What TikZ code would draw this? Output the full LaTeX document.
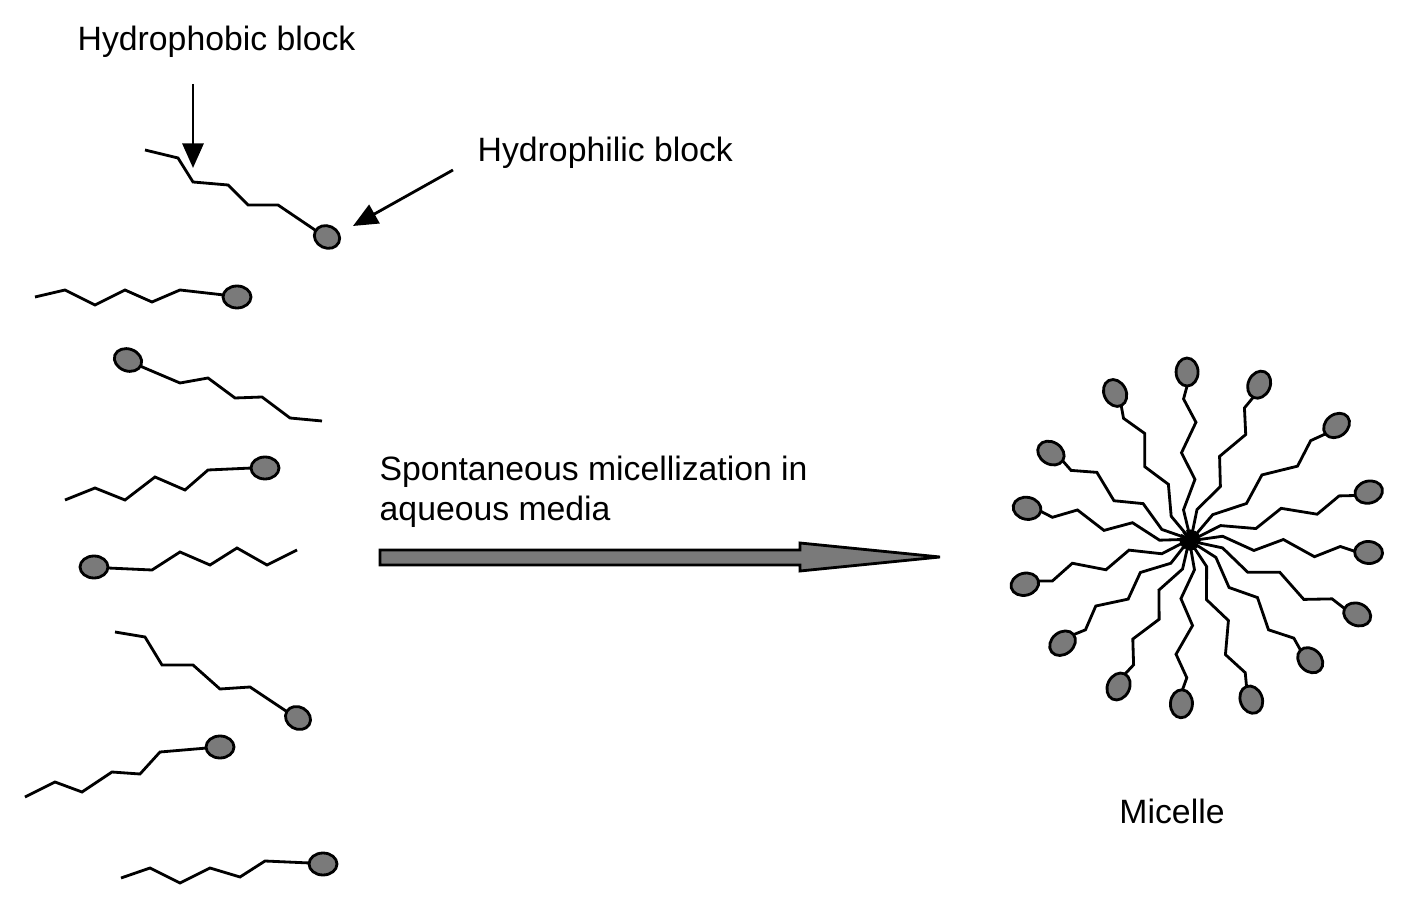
\documentclass[tikz,border=0pt]{standalone}
\usepackage{fontspec}
\setmainfont{Liberation Sans}
\usetikzlibrary{arrows.meta}
\definecolor{headgray}{RGB}{122,122,122}
\tikzset{%
	chain/.style={line width=0.8pt,line join=miter},
	head/.style={line width=0.8pt,fill=headgray},
	lbl/.style={font=\fontsize{9.6}{11.5}\selectfont,inner sep=0pt},
	pointer/.style={line width=0.8pt,-{Triangle[length=7pt,width=6pt]}}
}
\begin{document}
\begin{tikzpicture}[x=0.01cm,y=0.01cm]
	\useasboundingbox (0,0) rectangle (1404,-898);

	% free block copolymers
	\draw [chain] (145,-150)--(178,-158)--(193,-182)--(228,-185)--(248,-205)--(278,-205)--(315,-230);
	\draw [head,rotate around={-25:(327,-237)}] (327,-237) ellipse [x radius=13,y radius=11];
	\draw [chain] (35,-297)--(65,-290)--(95,-305)--(125,-290)--(152,-302)--(180,-290)--(224,-295);
	\draw [head] (237,-297) ellipse [x radius=14,y radius=11];
	\draw [chain] (140,-366)--(180,-383)--(208,-378)--(235,-398)--(262,-397)--(290,-418)--(322,-421);
	\draw [head,rotate around={-20:(128,-360)}] (128,-360) ellipse [x radius=14,y radius=11];
	\draw [chain] (65,-500)--(95,-488)--(125,-500)--(155,-477)--(185,-490)--(208,-470)--(252,-468);
	\draw [head] (265,-468) ellipse [x radius=14,y radius=11];
	\draw [chain] (108,-568)--(152,-570)--(180,-552)--(210,-565)--(237,-548)--(267,-565)--(297,-550);
	\draw [head] (94,-567) ellipse [x radius=14,y radius=11];
	\draw [chain] (115,-632)--(145,-637)--(162,-665)--(193,-665)--(220,-689)--(250,-687)--(286,-711);
	\draw [head,rotate around={-30:(298,-718)}] (298,-718) ellipse [x radius=13,y radius=11];
	\draw [chain] (25,-797)--(55,-782)--(82,-792)--(112,-772)--(140,-774)--(160,-752)--(207,-748);
	\draw [head] (220,-747) ellipse [x radius=14,y radius=11];
	\draw [chain] (121,-878)--(150,-868)--(180,-883)--(210,-868)--(240,-877)--(265,-861)--(310,-863);
	\draw [head] (323,-864) ellipse [x radius=14,y radius=11];

	% labels
	\node [lbl,anchor=west] (phob) at (77,-42) {Hydrophobic block};
	\node [lbl,anchor=west] (phil) at (477,-153) {Hydrophilic block};
	\coordinate (phobtip) at (193,-168);
	\coordinate (phobtail) at (193,-84);
	\coordinate (philtip) at (353,-226);
	\coordinate (philtail) at (453,-170);
	\draw [pointer] (phobtail) -- (phobtip);
	\draw [pointer] (philtail) -- (philtip);

	\node [lbl,anchor=north west,align=left] (proc) at (379,-455) {Spontaneous micellization in\\aqueous media};

	% big arrow
	\draw [line width=0.8pt,fill=headgray] (380,-550) -- (800,-550) -- (800,-543) -- (940,-557)
		-- (800,-571) -- (800,-565) -- (380,-565) -- cycle;

	% micelle
	\coordinate (core) at (1190,-540);
	\foreach \a/\r in {91/168,117/165,66/170,38/186,148/164,15/185,169/166,-4/179,
		195/171,-24/183,219/164,-45/170,244/163,267/164,291/171}{
		\begin{scope}[shift={(core)},rotate=\a]
			\draw [chain] (\r-13,0)--({0.84*\r},4)--({0.7*\r},-8)--({0.52*\r},7)--({0.36*\r},-6)--({0.18*\r},6)--(-10,-3);
			\draw [head] (\r,0) ellipse [x radius=14,y radius=11];
		\end{scope}
	}
	\node [lbl] (mic) at (1172,-811) {Micelle};
\end{tikzpicture}
\end{document}
